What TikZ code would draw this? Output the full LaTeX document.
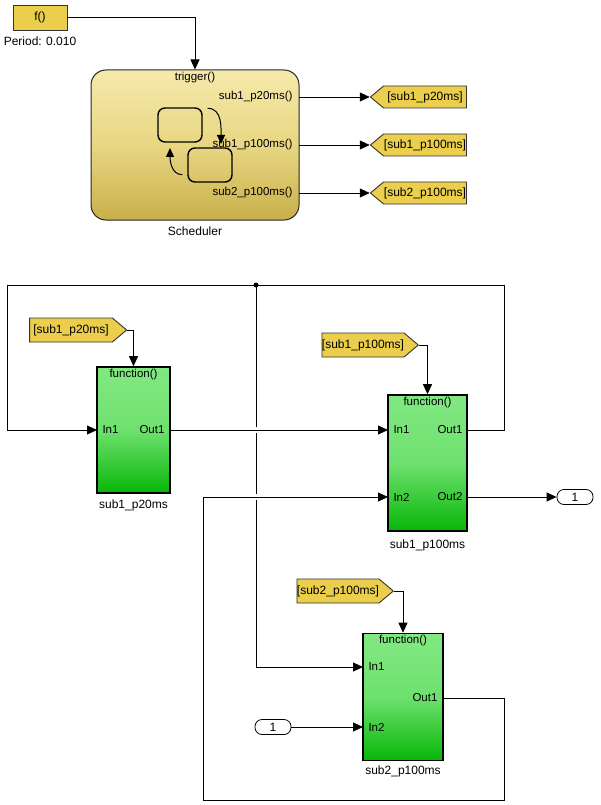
\documentclass[tikz,border=0pt]{standalone}
\usepackage{fontspec}
\setmainfont{Liberation Sans}
\usetikzlibrary{arrows.meta,shapes.symbols,calc}
\begin{document}
\begin{tikzpicture}[x=1pt,y=-1pt,font=\fontsize{12}{14}\selectfont,
  line/.style={draw=black,line width=0.8pt},
  arr/.style={line,-{Triangle[length=10pt,width=9pt]}},
  yel/.style={draw=black!80,line width=0.9pt,fill={rgb,255:red,234;green,206;blue,76}},
  goto/.style={yel,signal,signal to=west,signal pointer angle=80,minimum height=22pt,inner xsep=0pt,inner ysep=2pt},
  from/.style={yel,signal,signal to=east,signal pointer angle=80,minimum height=24pt,inner xsep=0pt,inner ysep=2pt},
  blk/.style={draw=black,line width=1.6pt,top color={rgb,255:red,130;green,232;blue,130},bottom color={rgb,255:red,8;green,182;blue,8},middle color={rgb,255:red,110;green,225;blue,110}},
  port/.style={draw=black,line width=0.8pt,rounded corners=7pt,minimum width=36pt,minimum height=15pt,inner sep=0pt,fill=white},
  small/.style={font=\fontsize{11.5}{13}\selectfont}]
\useasboundingbox (0,0) rectangle (600,805);
% top
\node[yel,minimum width=54pt,minimum height=25pt,inner sep=0pt] (f) at (40,17.5) {f()};
\node (per) at (40,41) {Period: 0.010};
\node[draw=black!85,line width=1pt,rounded corners=15pt,minimum width=208pt,minimum height=150pt,
  top color={rgb,255:red,246;green,234;blue,172},bottom color={rgb,255:red,200;green,176;blue,74},
  middle color={rgb,255:red,232;green,214;blue,130}] (sch) at (195,145) {};
\node (schl) at (195,231) {Scheduler};
\draw[arr] (f.east) -| (sch.north);
\node[small] (trig) at (195,78) {trigger()};
\node[small,anchor=east] (o1) at (296,97) {sub1\_p20ms()};
\node[small,anchor=east] (o2) at (296,145) {sub1\_p100ms()};
\node[small,anchor=east] (o3) at (296,193) {sub2\_p100ms()};
\node[draw=black,line width=1.4pt,rounded corners=7pt,minimum width=44pt,minimum height=34pt] (s1) at (180,125) {};
\node[draw=black,line width=1.4pt,rounded corners=7pt,minimum width=44pt,minimum height=34pt] (s2) at (210,165) {};
\draw[line width=1pt,-{Triangle[length=9pt,width=8pt]}] (s1.north east) ++(5,1) coordinate (c1) to[out=0,in=90] (221,144);
\draw[line width=1pt,-{Triangle[length=9pt,width=8pt]}] (s2.south west) ++(-5,-8) coordinate (c2) to[out=180,in=-90] (170,148);
\node[goto,minimum width=96pt] (g1) at (425,97) {[sub1\_p20ms]};
\node[goto,minimum width=96pt] (g2) at (425,145) {[sub1\_p100ms]};
\node[goto,minimum width=96pt] (g3) at (425,193) {[sub2\_p100ms]};
\coordinate (e1) at (299,97);\coordinate (e2) at (299,145);\coordinate (e3) at (299,193);
\draw[arr] (e1) -- (g1.west);
\draw[arr] (e2) -- (g2.west);
\draw[arr] (e3) -- (g3.west);
% blocks
\node[blk,minimum width=73pt,minimum height=126pt] (b1) at (133.5,430) {};
\node[blk,minimum width=79pt,minimum height=136pt] (b2) at (427.5,463) {};
\node[blk,minimum width=80pt,minimum height=127pt] (b3) at (403,697) {};
\node[small] at (133.5,375) {function()};
\node[small] at (427.5,403) {function()};
\node[small] at (403,641) {function()};
\node (l1) at (133.5,505) {sub1\_p20ms};
\node (l2) at (427.5,545) {sub1\_p100ms};
\node (l3) at (403,771) {sub2\_p100ms};
\node[small,anchor=west] at (99,430) {In1};
\node[small,anchor=east] at (168,430) {Out1};
\node[small,anchor=west] at (390,430) {In1};
\node[small,anchor=east] at (466,430) {Out1};
\node[small,anchor=west] at (390,497) {In2};
\node[small,anchor=east] at (466,497) {Out2};
\node[small,anchor=west] at (365,667) {In1};
\node[small,anchor=west] at (365,727) {In2};
\node[small,anchor=east] at (441,698) {Out1};
\coordinate (b1in) at (97,430);\coordinate (b1out) at (170,430);
\coordinate (b2in1) at (388,430);\coordinate (b2out1) at (467,430);
\coordinate (b2in2) at (388,497);\coordinate (b2out2) at (467,497);
\coordinate (b3in1) at (363,667);\coordinate (b3in2) at (363,727);\coordinate (b3out) at (443,698);
\node[from,minimum width=97pt] (t1) at (71,330) {[sub1\_p20ms]};
\node[from,minimum width=96pt] (t2) at (363,345) {[sub1\_p100ms]};
\node[from,minimum width=96pt] (t3) at (338,591) {[sub2\_p100ms]};
\draw[arr] (t1.east) -| (b1.north);
\draw[arr] (t2.east) -| (b2.north);
\draw[arr] (t3.east) -| (b3.north);
\node[port] (op) at (575,497) {1};
\node[port] (ip) at (273,727) {1};
% wiring
\coordinate (j) at (256,285);
\fill (j) circle (2.5pt);
\draw[line] (b2out1) -| (504,285) -- (7,285) coordinate (tl);
\draw[arr] (tl) |- (b1in);
\draw[arr] (b1out) -- (b2in1);
\draw[arr] (b2out2) -- (op.west);
\draw[arr] (ip.east) -- (b3in2);
\draw[line] (j) -- (256,427);
\draw[line] (256,433) -- (256,494);
\draw[arr] (256,500) |- (b3in1);
\draw[arr] (b3out) -| (504,800) -| (203,497) -- (b2in2);
\end{tikzpicture}
\end{document}
